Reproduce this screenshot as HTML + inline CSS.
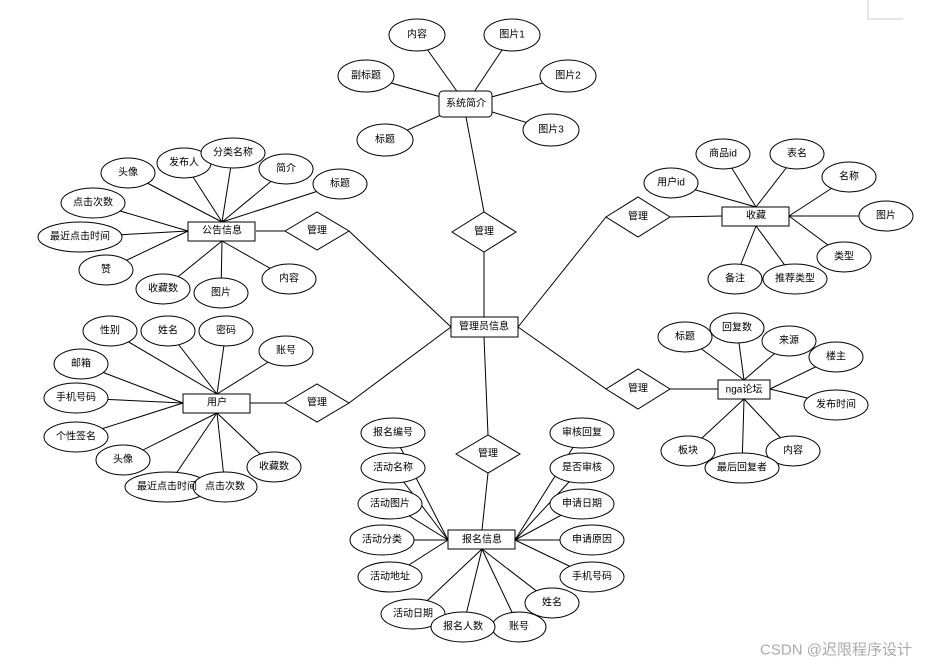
<!DOCTYPE html>
<html><head><meta charset="utf-8"><style>
html,body{margin:0;padding:0;background:#fff;}
svg{display:block;}
text{font-family:"Liberation Sans","Noto Sans CJK SC",sans-serif;font-size:10px;fill:#000;text-anchor:middle;dominant-baseline:central;}
</style></head><body>
<svg width="926" height="666" viewBox="0 0 926 666" xmlns="http://www.w3.org/2000/svg">
<g stroke="#000" stroke-width="1" fill="none">
<!-- top right mark -->
<path d="M868 0 V19 H903" stroke="#ccc"/>
<!-- system intro -->
<line x1="417" y1="35" x2="466" y2="104"/><line x1="512" y1="35" x2="466" y2="104"/>
<line x1="366" y1="76" x2="466" y2="104"/><line x1="568" y1="76" x2="466" y2="104"/>
<line x1="385" y1="140" x2="466" y2="104"/><line x1="551" y1="130" x2="466" y2="104"/>
<line x1="466" y1="117" x2="484" y2="212"/><line x1="484" y1="252" x2="484" y2="317"/>
<!-- 公告 -->
<line x1="128" y1="173" x2="222" y2="222"/><line x1="184" y1="163" x2="222" y2="222"/>
<line x1="233" y1="153" x2="222" y2="222"/><line x1="286" y1="169" x2="222" y2="222"/>
<line x1="340" y1="184" x2="222" y2="222"/>
<line x1="93" y1="203" x2="188" y2="231"/><line x1="80" y1="237" x2="188" y2="231"/>
<line x1="106" y1="270" x2="188" y2="231"/>
<line x1="163" y1="289" x2="222" y2="241"/><line x1="221" y1="293" x2="222" y2="241"/>
<line x1="289" y1="279" x2="222" y2="241"/>
<line x1="256" y1="231" x2="285" y2="231"/><line x1="349" y1="231" x2="451" y2="327"/>
<!-- 用户 -->
<line x1="110" y1="331" x2="217" y2="394"/><line x1="168" y1="331" x2="217" y2="394"/>
<line x1="226" y1="331" x2="217" y2="394"/><line x1="286" y1="351" x2="217" y2="394"/>
<line x1="81" y1="364" x2="183" y2="403"/><line x1="76" y1="398" x2="183" y2="403"/>
<line x1="76" y1="437" x2="183" y2="403"/><line x1="123" y1="460" x2="217" y2="413"/>
<line x1="167" y1="487" x2="217" y2="413"/><line x1="225" y1="487" x2="217" y2="413"/>
<line x1="274" y1="467" x2="217" y2="413"/>
<line x1="250" y1="403" x2="285" y2="403"/><line x1="349" y1="403" x2="451" y2="327"/>
<!-- 收藏 -->
<line x1="518" y1="327" x2="606" y2="217"/><line x1="670" y1="217" x2="722" y2="216"/>
<line x1="671" y1="183" x2="756" y2="207"/><line x1="723" y1="154" x2="756" y2="207"/>
<line x1="797" y1="154" x2="756" y2="207"/><line x1="849" y1="177" x2="789" y2="216"/>
<line x1="886" y1="216" x2="789" y2="216"/><line x1="844" y1="257" x2="789" y2="216"/>
<line x1="735" y1="279" x2="756" y2="226"/><line x1="795" y1="279" x2="756" y2="226"/>
<!-- nga -->
<line x1="518" y1="327" x2="606" y2="389"/><line x1="670" y1="389" x2="718" y2="389"/>
<line x1="685" y1="337" x2="744" y2="380"/><line x1="737" y1="328" x2="744" y2="380"/>
<line x1="789" y1="341" x2="744" y2="380"/><line x1="836" y1="357" x2="770" y2="389"/>
<line x1="836" y1="405" x2="770" y2="389"/>
<line x1="688" y1="451" x2="744" y2="399"/><line x1="742" y1="468" x2="744" y2="399"/>
<line x1="793" y1="451" x2="744" y2="399"/>
<!-- 报名 -->
<line x1="484" y1="337" x2="488" y2="435"/><line x1="488" y1="473" x2="482" y2="530"/>
<line x1="393" y1="433" x2="448" y2="540"/><line x1="393" y1="468" x2="448" y2="540"/>
<line x1="390" y1="504" x2="448" y2="540"/><line x1="382" y1="540" x2="448" y2="540"/>
<line x1="390" y1="577" x2="448" y2="540"/>
<line x1="582" y1="433" x2="515" y2="540"/><line x1="582" y1="468" x2="515" y2="540"/>
<line x1="582" y1="504" x2="515" y2="540"/><line x1="592" y1="540" x2="515" y2="540"/>
<line x1="592" y1="577" x2="515" y2="540"/>
<line x1="413" y1="614" x2="482" y2="549"/><line x1="463" y1="627" x2="482" y2="549"/>
<line x1="519" y1="627" x2="482" y2="549"/><line x1="552" y1="603" x2="482" y2="549"/>
</g>
<g stroke="#000" stroke-width="1" fill="#fff">
<!-- diamonds -->
<polygon points="452,232 484,212 516,232 484,252"/>
<polygon points="285,231 317,212 349,231 317,250"/>
<polygon points="285,403 317,384 349,403 317,422"/>
<polygon points="606,217 638,197 670,217 638,237"/>
<polygon points="606,389 638,369 670,389 638,409"/>
<polygon points="456,454 488,435 520,454 488,473"/>
<!-- rects -->
<rect x="439" y="91" width="53" height="26" rx="4"/>
<rect x="188" y="222" width="67" height="19"/>
<rect x="183" y="394" width="67" height="19"/>
<rect x="451" y="317" width="67" height="20"/>
<rect x="722" y="207" width="67" height="19"/>
<rect x="718" y="380" width="52" height="19"/>
<rect x="448" y="530" width="67" height="19"/>
<!-- ellipses -->
<ellipse cx="417" cy="35" rx="28" ry="16"/><ellipse cx="512" cy="35" rx="28" ry="16"/>
<ellipse cx="366" cy="76" rx="28" ry="16"/><ellipse cx="568" cy="76" rx="28" ry="16"/>
<ellipse cx="385" cy="140" rx="28" ry="16"/><ellipse cx="551" cy="130" rx="28" ry="16"/>
<ellipse cx="128" cy="173" rx="27" ry="15"/><ellipse cx="184" cy="163" rx="27" ry="15"/>
<ellipse cx="286" cy="169" rx="27" ry="15"/><ellipse cx="340" cy="184" rx="27" ry="15"/>
<ellipse cx="233" cy="153" rx="32" ry="15"/>
<ellipse cx="93" cy="203" rx="32" ry="15"/><ellipse cx="80" cy="237" rx="42" ry="15"/>
<ellipse cx="106" cy="270" rx="27" ry="15"/><ellipse cx="163" cy="289" rx="27" ry="15"/>
<ellipse cx="221" cy="293" rx="27" ry="15"/><ellipse cx="289" cy="279" rx="27" ry="15"/>
<ellipse cx="110" cy="331" rx="27" ry="15"/><ellipse cx="168" cy="331" rx="27" ry="15"/>
<ellipse cx="226" cy="331" rx="27" ry="15"/><ellipse cx="286" cy="351" rx="27" ry="15"/>
<ellipse cx="81" cy="364" rx="27" ry="15"/><ellipse cx="76" cy="398" rx="32" ry="15"/>
<ellipse cx="76" cy="437" rx="32" ry="15"/><ellipse cx="123" cy="460" rx="27" ry="15"/>
<ellipse cx="167" cy="487" rx="42" ry="15"/><ellipse cx="225" cy="487" rx="32" ry="15"/>
<ellipse cx="274" cy="467" rx="27" ry="15"/>
<ellipse cx="671" cy="183" rx="27" ry="15"/><ellipse cx="723" cy="154" rx="27" ry="15"/>
<ellipse cx="797" cy="154" rx="27" ry="15"/><ellipse cx="849" cy="177" rx="27" ry="15"/>
<ellipse cx="886" cy="216" rx="27" ry="15"/><ellipse cx="844" cy="257" rx="27" ry="15"/>
<ellipse cx="735" cy="279" rx="27" ry="15"/><ellipse cx="795" cy="279" rx="32" ry="15"/>
<ellipse cx="685" cy="337" rx="27" ry="15"/><ellipse cx="737" cy="328" rx="27" ry="15"/>
<ellipse cx="789" cy="341" rx="27" ry="15"/><ellipse cx="836" cy="357" rx="27" ry="15"/>
<ellipse cx="836" cy="405" rx="32" ry="15"/><ellipse cx="688" cy="451" rx="27" ry="15"/>
<ellipse cx="793" cy="451" rx="27" ry="15"/><ellipse cx="742" cy="468" rx="37" ry="15"/>
<ellipse cx="393" cy="433" rx="32" ry="15"/><ellipse cx="393" cy="468" rx="32" ry="15"/>
<ellipse cx="390" cy="504" rx="32" ry="15"/><ellipse cx="382" cy="540" rx="32" ry="15"/>
<ellipse cx="390" cy="577" rx="32" ry="15"/>
<ellipse cx="582" cy="433" rx="32" ry="15"/><ellipse cx="582" cy="468" rx="32" ry="15"/>
<ellipse cx="582" cy="504" rx="32" ry="15"/><ellipse cx="592" cy="540" rx="32" ry="15"/>
<ellipse cx="592" cy="577" rx="32" ry="15"/>
<ellipse cx="552" cy="603" rx="27" ry="15"/><ellipse cx="413" cy="614" rx="32" ry="15"/>
<ellipse cx="519" cy="627" rx="27" ry="15"/><ellipse cx="463" cy="627" rx="32" ry="15"/>
</g>
<g>
<text x="466" y="104">系统简介</text>
<text x="417" y="35">内容</text><text x="512" y="35">图片1</text>
<text x="366" y="76">副标题</text><text x="568" y="76">图片2</text>
<text x="385" y="140">标题</text><text x="551" y="130">图片3</text>
<text x="484" y="232">管理</text><text x="317" y="231">管理</text><text x="317" y="403">管理</text>
<text x="638" y="217">管理</text><text x="638" y="389">管理</text><text x="488" y="454">管理</text>
<text x="222" y="231">公告信息</text><text x="217" y="403">用户</text>
<text x="484" y="327">管理员信息</text><text x="756" y="216">收藏</text>
<text x="744" y="390">nga论坛</text><text x="482" y="540">报名信息</text>
<text x="128" y="173">头像</text><text x="184" y="163">发布人</text><text x="233" y="153">分类名称</text>
<text x="286" y="169">简介</text><text x="340" y="184">标题</text><text x="93" y="203">点击次数</text>
<text x="80" y="237">最近点击时间</text><text x="106" y="270">赞</text><text x="163" y="289">收藏数</text>
<text x="221" y="293">图片</text><text x="289" y="279">内容</text>
<text x="110" y="331">性别</text><text x="168" y="331">姓名</text><text x="226" y="331">密码</text>
<text x="286" y="351">账号</text><text x="81" y="364">邮箱</text><text x="76" y="398">手机号码</text>
<text x="76" y="437">个性签名</text><text x="123" y="460">头像</text><text x="167" y="487">最近点击时间</text>
<text x="225" y="487">点击次数</text><text x="274" y="467">收藏数</text>
<text x="671" y="183">用户id</text><text x="723" y="154">商品id</text><text x="797" y="154">表名</text>
<text x="849" y="177">名称</text><text x="886" y="216">图片</text><text x="844" y="257">类型</text>
<text x="735" y="279">备注</text><text x="795" y="279">推荐类型</text>
<text x="685" y="337">标题</text><text x="737" y="328">回复数</text><text x="789" y="341">来源</text>
<text x="836" y="357">楼主</text><text x="836" y="405">发布时间</text><text x="688" y="451">板块</text>
<text x="742" y="468">最后回复者</text><text x="793" y="451">内容</text>
<text x="393" y="433">报名编号</text><text x="393" y="468">活动名称</text><text x="390" y="504">活动图片</text>
<text x="382" y="540">活动分类</text><text x="390" y="577">活动地址</text>
<text x="582" y="433">审核回复</text><text x="582" y="468">是否审核</text><text x="582" y="504">申请日期</text>
<text x="592" y="540">申请原因</text><text x="592" y="577">手机号码</text>
<text x="552" y="603">姓名</text><text x="413" y="614">活动日期</text>
<text x="519" y="627">账号</text><text x="463" y="627">报名人数</text>
<text x="836" y="650" style="font-size:15px;fill:#aaa">CSDN @迟限程序设计</text>
</g>
</svg>
</body></html>
